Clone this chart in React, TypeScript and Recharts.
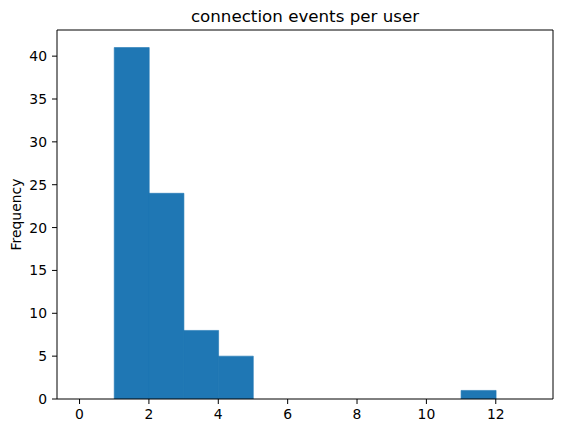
import { ComposedChart, Bar, XAxis, YAxis, ReferenceLine } from "recharts";

// histogram of connection events per user, bins of width 1 from 0 to 13
const binStarts = [0, 1, 2, 3, 4, 5, 6, 7, 8, 9, 10, 11, 12];
const counts = [0, 41, 24, 8, 5, 0, 0, 0, 0, 0, 0, 1, 0];
const xTicks = [0, 2, 4, 6, 8, 10, 12];
const yTicks = [0, 5, 10, 15, 20, 25, 30, 35, 40];

const data = binStarts.map((start, i) => ({ mid: start + 0.5, count: counts[i] }));

const xDomain = [-0.65, 13.65];
const yDomain = [0, 43.05];

const font = "DejaVu Sans, sans-serif";
const tickStyle = { fontSize: 13.9, fill: "#000", fontFamily: font };

export default function App() {
  return (
    <div style={{ position: "absolute", left: 0, top: 0, width: 563, height: 433, background: "#fff" }}>
      <ComposedChart
        width={563}
        height={433}
        data={data}
        barCategoryGap={0}
        barGap={0}
        margin={{ top: 30, right: 10, left: 0, bottom: 0 }}
      >
        <text x={305} y={22} textAnchor="middle" fontSize={16.7} fontFamily={font} fill="#000">
          connection events per user
        </text>
        <XAxis
          dataKey="mid"
          type="number"
          domain={xDomain}
          ticks={xTicks}
          height={34}
          tick={tickStyle}
          tickSize={5}
          tickMargin={5}
          axisLine={{ stroke: "#000" }}
          tickLine={{ stroke: "#000" }}
          allowDataOverflow
        />
        <YAxis
          type="number"
          domain={yDomain}
          ticks={yTicks}
          width={57}
          tick={tickStyle}
          tickSize={5}
          tickMargin={5}
          axisLine={{ stroke: "#000" }}
          tickLine={{ stroke: "#000" }}
          allowDataOverflow
          label={{ value: "Frequency", angle: -90, position: "insideLeft", offset: 16, style: { fontSize: 13.9, fill: "#000", fontFamily: font, textAnchor: "middle" } }}
        />
        <Bar dataKey="count" fill="#1f77b4" stroke="#1f77b4" strokeWidth={0.6} isAnimationActive={false} />
        <ReferenceLine y={yDomain[1]} stroke="#000" strokeWidth={1} />
        <ReferenceLine x={xDomain[1]} stroke="#000" strokeWidth={1} />
      </ComposedChart>
    </div>
  );
}
